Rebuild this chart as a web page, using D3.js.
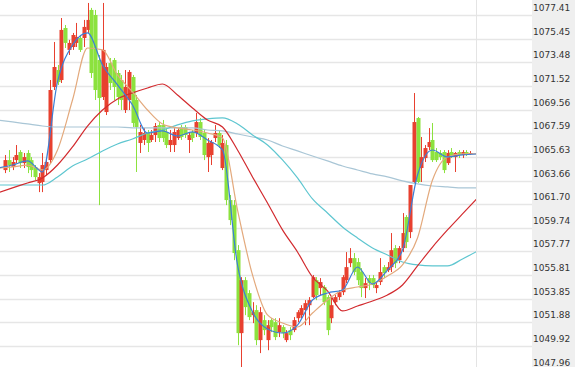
<!DOCTYPE html>
<html><head><meta charset="utf-8">
<script src="https://cdn.jsdelivr.net/npm/d3@7"></script>
<style>html,body{margin:0;padding:0;background:#fff;}svg{display:block;}</style>
</head><body><div id="chart"></div>
<script>
// Candles: [open, high, low, close]
const candles = [
[1064.53,1065.78,1064.28,1065.36],[1065.36,1066.19,1064.37,1064.95],[1064.78,1065.61,1064.53,1065.20],[1065.36,1066.61,1065.11,1065.78],
[1066.03,1066.19,1064.70,1065.11],[1065.11,1065.95,1064.70,1065.61],[1065.95,1066.19,1064.28,1064.78],[1065.36,1065.61,1063.95,1064.53],
[1064.78,1064.95,1063.70,1063.95],[1063.45,1064.28,1062.70,1063.95],[1063.54,1065.95,1062.70,1064.95],[1064.53,1065.53,1064.12,1065.20],
[1065.36,1072.01,1065.11,1071.18],[1071.43,1075.17,1071.18,1073.09],[1072.84,1073.26,1071.60,1071.85],[1072.01,1077.16,1071.76,1076.17],
[1076.33,1076.58,1074.67,1075.09],[1074.51,1075.34,1074.09,1075.09],[1074.75,1075.92,1074.51,1075.75],[1075.09,1076.75,1074.75,1075.59],
[1075.50,1075.75,1074.34,1074.51],[1075.50,1077.00,1074.75,1076.42],[1076.17,1078.41,1075.92,1077.00],[1077.83,1078.00,1072.18,1072.59],
[1077.41,1077.83,1070.35,1071.18],[1073.67,1074.09,1061.62,1070.52],[1070.60,1078.41,1070.35,1074.51],[1069.35,1073.42,1069.10,1073.09],
[1073.42,1073.84,1071.18,1071.76],[1073.67,1073.84,1070.35,1071.43],[1072.59,1072.84,1069.93,1070.60],[1072.01,1072.43,1069.52,1070.35],
[1069.52,1072.84,1069.27,1071.43],[1070.35,1072.84,1069.52,1072.68],[1072.26,1072.43,1068.11,1068.44],[1070.35,1070.77,1064.37,1068.11],
[1066.78,1068.27,1065.95,1067.69],[1067.03,1068.02,1066.61,1067.61],[1067.61,1067.86,1066.03,1066.78],[1067.03,1067.86,1066.86,1067.44],
[1067.44,1068.44,1066.86,1068.19],[1068.27,1068.52,1066.86,1067.19],[1068.27,1068.69,1066.86,1067.19],[1067.69,1068.02,1066.36,1066.61],
[1066.61,1067.86,1066.03,1067.03],[1066.61,1068.02,1066.03,1067.69],[1067.19,1068.02,1067.03,1067.86],[1068.11,1068.27,1067.03,1067.28],
[1068.11,1068.27,1067.19,1067.44],[1067.03,1067.61,1065.95,1067.44],[1067.69,1067.86,1066.86,1067.19],[1067.61,1069.27,1067.28,1068.52],
[1068.52,1068.85,1067.03,1067.28],[1067.61,1067.86,1065.36,1065.78],[1065.61,1067.19,1064.37,1066.78],[1065.78,1067.03,1064.95,1066.86],
[1067.19,1068.27,1066.86,1067.61],[1067.61,1067.86,1066.36,1066.61],[1064.70,1067.44,1064.53,1066.78],[1066.61,1067.03,1061.62,1062.04],
[1062.04,1062.46,1059.96,1060.38],[1061.62,1062.04,1057.05,1057.64],[1057.88,1058.30,1049.99,1050.99],[1050.99,1055.64,1048.16,1055.39],
[1055.39,1055.64,1052.48,1053.15],[1054.31,1054.56,1052.07,1052.32],[1052.48,1053.56,1051.82,1052.73],[1052.90,1053.31,1049.99,1050.41],
[1050.41,1053.15,1049.33,1052.73],[1052.07,1052.48,1050.82,1051.24],[1050.41,1052.07,1049.57,1051.65],[1052.07,1052.23,1051.07,1051.49],
[1051.90,1052.23,1050.41,1050.66],[1051.07,1052.23,1050.66,1051.65],[1051.49,1051.65,1050.57,1050.99],[1050.41,1051.24,1050.24,1050.99],
[1051.24,1051.49,1050.41,1050.82],[1051.24,1052.32,1051.07,1052.07],[1052.23,1052.90,1051.90,1052.73],[1052.48,1053.31,1052.23,1053.07],
[1052.90,1053.73,1051.65,1053.48],[1053.31,1053.98,1051.65,1053.73],[1053.98,1055.81,1053.90,1055.64],[1055.39,1055.64,1053.73,1054.15],
[1054.73,1055.56,1054.15,1055.23],[1054.81,1054.98,1053.31,1053.56],[1053.98,1054.15,1050.82,1051.24],[1052.23,1053.98,1051.82,1053.31],
[1053.56,1054.15,1053.31,1053.98],[1053.98,1054.56,1053.73,1054.39],[1054.39,1055.81,1054.15,1055.64],[1055.39,1057.72,1055.14,1056.47],
[1056.80,1058.05,1056.47,1057.22],[1057.22,1057.64,1055.81,1056.06],[1056.89,1057.22,1054.98,1055.39],[1056.06,1056.39,1053.98,1054.73],
[1054.73,1055.56,1053.90,1055.14],[1055.56,1055.81,1054.56,1055.14],[1055.56,1055.81,1054.73,1054.98],[1054.73,1055.23,1054.31,1054.98],
[1055.23,1057.22,1054.98,1056.06],[1056.47,1056.64,1055.56,1055.97],[1056.22,1056.89,1056.06,1056.47],[1056.47,1059.30,1056.06,1057.88],
[1058.05,1058.30,1056.39,1056.80],[1057.05,1058.22,1056.80,1058.05],[1058.05,1060.96,1057.72,1059.30],[1060.63,1060.79,1058.05,1058.55],
[1059.38,1063.29,1058.88,1063.29],[1063.54,1070.93,1063.45,1068.52],[1068.85,1068.94,1063.45,1063.54],[1064.70,1067.28,1063.54,1065.61],
[1065.53,1066.61,1065.20,1066.36],[1066.44,1068.02,1066.19,1066.86],[1067.03,1068.44,1065.20,1065.36],[1066.03,1066.36,1065.20,1065.36],
[1065.95,1066.19,1065.36,1065.61],[1066.03,1066.19,1064.28,1064.53],[1065.11,1066.19,1064.95,1065.95],[1066.03,1066.36,1065.53,1065.61],
[1065.61,1066.03,1064.37,1065.95],[1066.03,1066.19,1065.53,1065.78],[1065.78,1066.19,1065.53,1066.03],[1066.03,1066.19,1065.70,1065.86],
[1065.86,1066.11,1065.78,1065.95]
];

// Moving averages sampled at candle indices
const maIndex = [-2,2,6,10,14,18,22,26,30,34,38,42,46,50,54,58,62,66,70,74,78,82,86,90,94,98,102,106,110,114,118,122,126];
const ma5  = [1064.70,1064.95,1065.29,1064.37,1071.85,1074.92,1075.92,1073.26,1071.60,1069.94,1067.61,1067.78,1067.36,1067.70,1067.03,1066.20,1056.65,1052.75,1051.33,1051.00,1051.66,1053.74,1054.32,1054.57,1056.48,1055.07,1056.23,1057.89,1064.12,1066.20,1065.62,1065.79,1065.87];
const ma10 = [1064.70,1064.79,1064.95,1064.54,1066.20,1070.35,1074.67,1074.51,1072.43,1071.02,1069.52,1068.36,1068.03,1067.86,1067.61,1067.20,1061.22,1055.82,1052.50,1051.83,1051.50,1052.66,1053.74,1054.57,1054.82,1055.07,1055.74,1056.65,1058.89,1063.71,1065.62,1065.87,1065.87];
const ma20 = [1062.63,1063.05,1063.46,1063.88,1064.95,1066.45,1068.19,1069.52,1070.44,1070.94,1071.35,1071.68,1070.77,1069.69,1068.69,1068.11,1066.20,1063.96,1061.80,1059.56,1057.73,1055.65,1054.49,1052.83,1053.24,1053.66,1054.16,1054.99,1056.57,1058.14,1059.56,1060.89,1062.21];
const ma60 = [1063.29,1063.29,1063.29,1063.29,1063.96,1064.87,1065.45,1066.12,1066.70,1067.11,1067.61,1067.86,1068.28,1068.61,1068.78,1068.86,1068.36,1067.45,1066.62,1065.37,1063.88,1062.13,1060.97,1059.81,1058.89,1058.06,1057.48,1056.90,1056.65,1056.57,1056.57,1057.15,1057.81];
const ma120= [1068.69,1068.53,1068.36,1068.19,1068.11,1068.11,1068.11,1068.11,1068.11,1068.03,1068.03,1068.03,1068.03,1068.03,1067.86,1067.78,1067.53,1067.28,1067.03,1066.53,1066.12,1065.70,1065.29,1064.87,1064.54,1064.21,1063.96,1063.63,1063.38,1063.21,1063.13,1063.05,1063.05];

const tickValues = [1077.41,1075.45,1073.48,1071.52,1069.56,1067.59,1065.63,1063.66,1061.70,1059.74,1057.77,1055.81,1053.85,1051.88,1049.92,1047.96];

const W = 575, H = 367, plotRight = 476, gridRight = 532;
const svg = d3.select('#chart').append('svg').attr('width', W).attr('height', H);

const x = d3.scaleLinear().domain([0, candles.length - 1]).range([5, 470]);
const y = d3.scaleLinear().domain([1047.96, 1077.41]).range([369.6, 15]);

// axis panel
svg.append('rect').attr('x', gridRight).attr('y', 0).attr('width', W - gridRight).attr('height', H).attr('fill', '#efefef');

// grid
svg.append('g').selectAll('line').data(tickValues).join('line')
  .attr('x1', 0).attr('x2', gridRight)
  .attr('y1', d => Math.round(y(d)) + 0.5).attr('y2', d => Math.round(y(d)) + 0.5)
  .attr('stroke', '#e6e6e6').attr('stroke-width', 1.6);

svg.append('line').attr('x1', plotRight + 0.5).attr('x2', plotRight + 0.5).attr('y1', 0).attr('y2', H)
  .attr('stroke', '#e4e4e4').attr('stroke-width', 1);

// axis labels
const axis = d3.axisRight(y).tickValues(tickValues).tickSize(0).tickPadding(0).tickFormat(d3.format('.2f'));
const ag = svg.append('g').attr('transform', `translate(${gridRight + 1},0)`).call(axis);
ag.select('.domain').remove();
ag.selectAll('text').attr('dy', '-0.5em').attr('fill', '#333')
  .style('font-family', 'DejaVu Sans, Verdana, sans-serif').style('font-size', '9px');

const plot = svg.append('g');
svg.append('clipPath').attr('id', 'clip').append('rect').attr('x', 0).attr('y', 0).attr('width', plotRight).attr('height', H);
plot.attr('clip-path', 'url(#clip)');

const RED = '#e8402f', GREEN = '#8ce23e';
const cg = plot.append('g').selectAll('g').data(candles).join('g');
cg.append('line')
  .attr('x1', (d, i) => Math.round(x(i)) + 0.5).attr('x2', (d, i) => Math.round(x(i)) + 0.5)
  .attr('y1', d => y(d[1])).attr('y2', d => y(d[2]))
  .attr('stroke', d => d[3] >= d[0] ? RED : GREEN).attr('stroke-width', 1);
cg.append('rect')
  .attr('x', (d, i) => Math.round(x(i)) - 1.5).attr('width', 4)
  .attr('y', d => y(Math.max(d[0], d[3])))
  .attr('height', d => Math.max(1, Math.abs(y(d[0]) - y(d[3]))))
  .attr('fill', d => d[3] >= d[0] ? RED : GREEN);

const line = d3.line().x((d, i) => x(maIndex[i])).y(d => y(d)).curve(d3.curveMonotoneX);
const maSeries = [[ma120, '#a9c6d6'], [ma60, '#5ec6d0'], [ma20, '#d22a2e'], [ma10, '#e3a97c'], [ma5, '#3b7fd6']];
plot.append('g').selectAll('path').data(maSeries).join('path')
  .attr('d', d => line(d[0])).attr('fill', 'none').attr('stroke', d => d[1]).attr('stroke-width', 1.2);
</script></body></html>
